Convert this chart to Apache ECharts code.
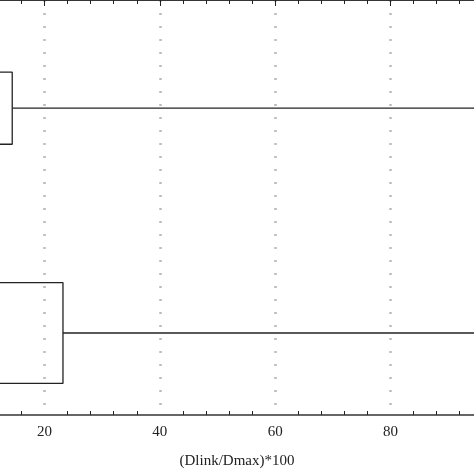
<!DOCTYPE html>
<html><head><meta charset="utf-8">
<script src="https://cdn.jsdelivr.net/npm/echarts@6/dist/echarts.min.js"></script>
<style>html,body{margin:0;padding:0;background:#fff}#c{width:474px;height:474px}</style>
</head><body><div id="c"></div>
<script>
// leaf positions (vertical order) and link heights (Dlink/Dmax*100)
var leafPos = [73, 146, 286, 388];
var mergeHeights = [14.4, 23.2];
var rootHeight = 100;
var majorTicks = [20, 40, 60, 80];
var minorTicks = [16, 24, 28, 32, 36, 44, 48, 52, 56, 64, 68, 72, 76, 84, 88, 92];
var xMin = 12.28, xMax = 94.48;

var chart = echarts.init(document.getElementById('c'));
var font = 'Liberation Serif';
var lineStyle = { color: '#222', width: 1.3 };

function clusterLinks(a, b, h) {
  var mid = (leafPos[a] + leafPos[b]) / 2;
  return [
    [[0, leafPos[a]], [h, leafPos[a]], [h, leafPos[b]], [0, leafPos[b]]],
    [[h, mid], [rootHeight, mid]]
  ];
}

var segs = clusterLinks(0, 1, mergeHeights[0]).concat(clusterLinks(2, 3, mergeHeights[1]));
var series = segs.map(function (s) {
  return { type: 'line', data: s, symbol: 'none', lineStyle: lineStyle, silent: true, animation: false, clip: true };
});

function axis(pos, values, len, extra) {
  return Object.assign({
    type: 'value', min: xMin, max: xMax, position: pos,
    axisLine: { show: true, lineStyle: { color: '#333', width: 1.5 } },
    axisTick: { show: true, inside: true, length: len, customValues: values, lineStyle: { color: '#222' } },
    axisLabel: { show: false },
    splitLine: { show: false }
  }, extra || {});
}

chart.setOption({
  animation: false,
  grid: { left: 0, right: 0, top: 0, bottom: 54 },
  xAxis: [
    axis('bottom', majorTicks, 6, {
      name: '(Dlink/Dmax)*100', nameLocation: 'middle', nameGap: 39,
      nameTextStyle: { fontFamily: font, fontSize: 15, color: '#222' },
      axisLabel: { show: true, customValues: majorTicks, fontFamily: font, fontSize: 15, color: '#222', margin: 10 },
      splitLine: { show: true, lineStyle: { color: '#bbb', type: [2, 11], width: 2.5 } }
    }),
    axis('bottom', minorTicks, 4),
    axis('top', majorTicks, 6),
    axis('top', minorTicks, 4)
  ],
  yAxis: { type: 'value', min: 0, max: 420, inverse: true, show: false },
  series: series
});
</script></body></html>
